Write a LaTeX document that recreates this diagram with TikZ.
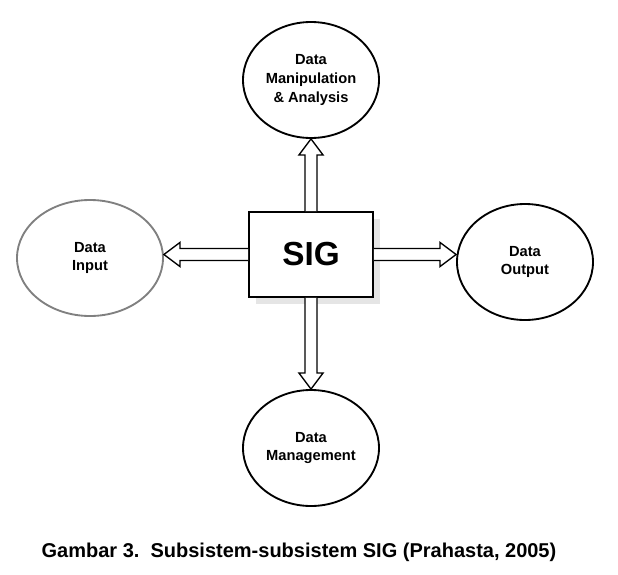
\documentclass[tikz,border=0pt]{standalone}
\usepackage{fontspec}
\setmainfont{Liberation Sans}
\usetikzlibrary{calc,shadows,shapes.geometric}
\begin{document}
\begin{tikzpicture}[x=0.75pt,y=-0.75pt,
  ell/.style={draw=black,line width=1.4pt,ellipse,minimum width=136*0.75pt,minimum height=116*0.75pt,align=center,font=\bfseries\fontsize{11}{14}\selectfont,inner sep=0pt},
  blk/.style={draw=black,line width=1pt,fill=white,line join=miter}]
\useasboundingbox (0,0) rectangle (618,575);
\node[ell] (top) at (311,80) {Data\\Manipulation\\\& Analysis};
\node[ell,draw=gray,minimum width=146*0.75pt] (left) at (90,258) {Data\\Input};
\node[ell] (right) at (525,262) {Data\\Output};
\node[ell] (bot) at (311,448) {Data\\Management};
\node[draw=black,line width=1.4pt,fill=white,minimum width=124*0.75pt,minimum height=85*0.75pt,font=\bfseries\fontsize{25}{28}\selectfont,drop shadow={fill=gray!40,shadow xshift=5pt,shadow yshift=-5pt}] (sig) at (311,254.5) {SIG};
\coordinate (lt) at (sig.west -| left.east);
\coordinate (rt) at (sig.east -| right.west);
% top
\draw[blk] ($(sig.north)+(-6,0)$) -- ($(top.south)+(-6,16)$) -- ++(-6,0) -- (top.south) -- ($(top.south)+(12,16)$) -- ++(-6,0) -- ($(sig.north)+(6,0)$);
% bottom
\draw[blk] ($(sig.south)+(-6,0)$) -- ($(bot.north)+(-6,-16)$) -- ++(-6,0) -- (bot.north) -- ($(bot.north)+(12,-16)$) -- ++(-6,0) -- ($(sig.south)+(6,0)$);
% left
\draw[blk] ($(sig.west)+(0,-6)$) -- ($(lt)+(16,-6)$) -- ++(0,-6) -- (lt) -- ($(lt)+(16,12)$) -- ++(0,-6) -- ($(sig.west)+(0,6)$);
% right
\draw[blk] ($(sig.east)+(0,-6)$) -- ($(rt)+(-16,-6)$) -- ++(0,-6) -- (rt) -- ($(rt)+(-16,12)$) -- ++(0,-6) -- ($(sig.east)+(0,6)$);
\node[font=\bfseries\fontsize{15}{18}\selectfont] (cap) at (299,552) {Gambar 3.\ \ Subsistem-subsistem SIG (Prahasta, 2005)};
\end{tikzpicture}
\end{document}
